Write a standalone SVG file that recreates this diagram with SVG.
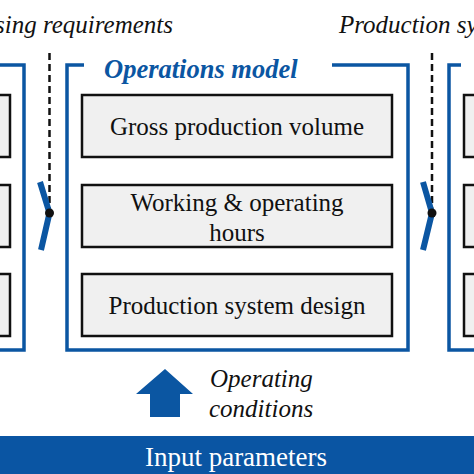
<svg xmlns="http://www.w3.org/2000/svg" width="474" height="474" viewBox="0 0 474 474">
<style>
.frame{fill:none;stroke:#0b56a2;stroke-width:3.5}
.box{fill:#f0f0f0;stroke:#111;stroke-width:2.5}
.t{font-family:"Liberation Serif","Times New Roman",serif;font-size:25px;fill:#111}
.i{font-family:"Liberation Serif","Times New Roman",serif;font-size:25px;font-style:italic;fill:#111}
.title{font-family:"Liberation Serif","Times New Roman",serif;font-size:26.5px;font-style:italic;font-weight:bold;fill:#0b56a2}
.dash{stroke:#111;stroke-width:2.5;stroke-dasharray:7 4;fill:none}
.chev{fill:none;stroke:#0b56a2;stroke-width:6}
</style>
<rect width="474" height="474" fill="#fff"/>
<g id="left-model">
<polyline class="frame" points="0,65 24,65 24,350 0,350"/>
<rect class="box" x="-10" y="95" width="20" height="62"/>
<rect class="box" x="-10" y="185" width="20" height="62"/>
<rect class="box" x="-10" y="274" width="20" height="62"/>
</g>
<g id="operations-model">
<polyline class="frame" points="84,65 67,65 67,350 408,350 408,65 332,65"/>
<text class="title" x="104" y="78">Operations model</text>
</g>
<g id="gross-production-volume">
<rect class="box" x="82" y="95" width="310" height="62"/>
<text class="t" x="237" y="135" text-anchor="middle">Gross production volume</text>
</g>
<g id="working-operating-hours">
<rect class="box" x="82" y="185" width="310" height="62"/>
<text class="t" x="237" y="211" text-anchor="middle">Working &amp; operating</text>
<text class="t" x="237" y="241" text-anchor="middle">hours</text>
</g>
<g id="production-system-design">
<rect class="box" x="82" y="274" width="310" height="62"/>
<text class="t" x="237" y="314" text-anchor="middle">Production system design</text>
</g>
<g id="right-model">
<polyline class="frame" points="461,65 449,65 449,350 480,350"/>
<rect class="box" x="464" y="95" width="20" height="62"/>
<rect class="box" x="464" y="185" width="20" height="62"/>
<rect class="box" x="464" y="274" width="20" height="62"/>
</g>
<g id="connectors">
<line class="dash" x1="49.5" y1="53" x2="49.5" y2="213"/>
<polyline class="chev" points="40,182 49.5,213 41,250"/>
<circle cx="49.5" cy="213" r="4.5" fill="#111"/>
<line class="dash" x1="432" y1="53" x2="432" y2="213"/>
<polyline class="chev" points="423,182 432,213 423,250"/>
<circle cx="432" cy="213" r="4.5" fill="#111"/>
<polygon points="165,369 193,394 180,394 180,417 150,417 150,394 136,394" fill="#0b56a2"/>
</g>
<g id="labels">
<text class="i" x="173" y="33" text-anchor="end">sing requirements</text>
<text class="i" x="339" y="33">Production sy</text>
<text class="i" x="210" y="387">Operating</text>
<text class="i" x="209" y="417">conditions</text>
</g>
<g id="input-parameters">
<rect x="0" y="436" width="474" height="40" fill="#0a55a3"/>
<text class="t" x="236" y="466" text-anchor="middle" style="fill:#fff;font-size:27px">Input parameters</text>
</g>
</svg>
